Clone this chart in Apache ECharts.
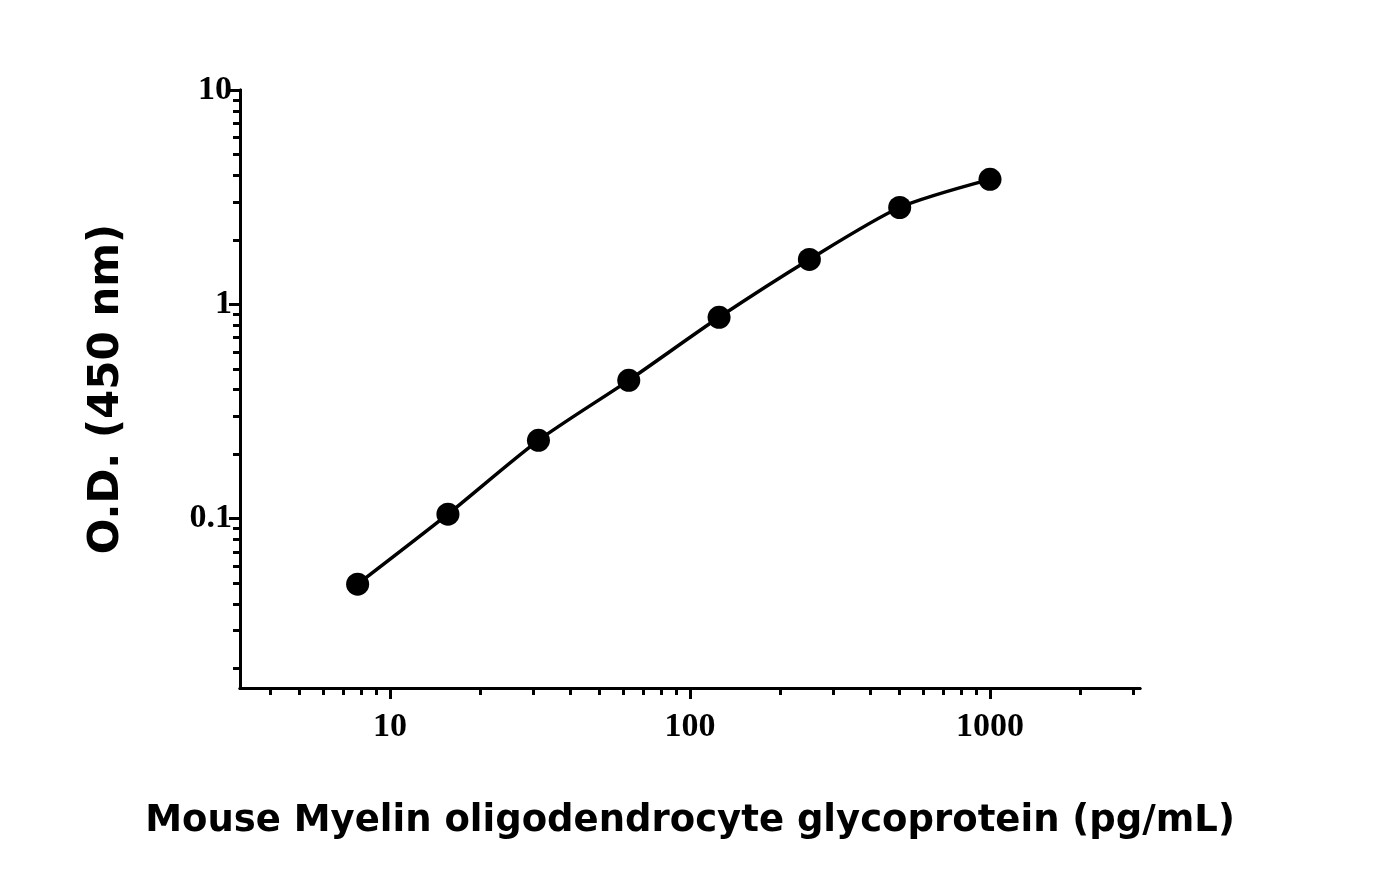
<!DOCTYPE html>
<html><head><meta charset="utf-8">
<script src="https://cdn.jsdelivr.net/npm/echarts@6/dist/echarts.min.js"></script>
<style>html,body{margin:0;background:#fff}#c{width:1383px;height:873px}</style>
</head><body><div id="c"></div>
<script>
var conc = [7.8, 15.6, 31.25, 62.5, 125, 250, 500, 1000];
var od = [0.0495, 0.105, 0.232, 0.442, 0.87, 1.62, 2.83, 3.83];
var xMajor = [10, 100, 1000];
var xMinor = [4, 5, 6, 7, 8, 9, 20, 30, 40, 50, 60, 70, 80, 90, 200, 300, 400, 500, 600, 700, 800, 900, 2000, 3000];
var yMajor = [0.1, 1, 10];
var yMinor = [0.02, 0.03, 0.04, 0.05, 0.06, 0.07, 0.08, 0.09, 0.2, 0.3, 0.4, 0.5, 0.6, 0.7, 0.8, 0.9, 2, 3, 4, 5, 6, 7, 8, 9];

var lg = function (v) { return Math.log10(v); };
var pts = conc.map(function (c, i) { return [lg(c), lg(od[i])]; });
var fmt = function (v) { var n = Math.pow(10, v); return n < 1 ? n.toFixed(1) : String(Math.round(n)); };
var font = 'DejaVu Sans';

var myChart = echarts.init(document.getElementById('c'));
var line = { onZero: false, lineStyle: { color: '#000', width: 3 } };
var xBase = { type: 'value', min: 0.5, max: 3.5, splitLine: { show: false }, axisLine: line };
var yBase = { type: 'value', min: -1.79, max: 1, splitLine: { show: false }, axisLine: line };
var option = {
    textStyle: { fontFamily: font },
    grid: { left: 240, right: 243, top: 90, bottom: 185 },
    xAxis: [
        Object.assign({}, xBase, {
            name: 'Mouse Myelin oligodendrocyte glycoprotein (pg/mL)',
            nameLocation: 'middle', nameGap: 115,
            nameTextStyle: { fontSize: 37, fontWeight: 'bold', color: '#000', fontFamily: font },
            axisTick: { customValues: xMajor.map(lg), length: 11, lineStyle: { width: 3, color: '#000' } },
            axisLabel: { customValues: xMajor.map(lg), formatter: fmt, fontSize: 34, fontWeight: 'bold', color: '#000', margin: 22, fontFamily: 'Liberation Sans Narrow' }
        }),
        Object.assign({}, xBase, {
            position: 'bottom',
            axisTick: { customValues: xMinor.map(lg), length: 7, lineStyle: { width: 3, color: '#000' } },
            axisLabel: { show: false }
        })
    ],
    yAxis: [
        Object.assign({}, yBase, {
            name: 'O.D. (450 nm)',
            nameLocation: 'middle', nameGap: 112,
            nameTextStyle: { fontSize: 42, fontWeight: 'bold', color: '#000', fontFamily: font },
            axisTick: { customValues: yMajor.map(lg), length: 11, lineStyle: { width: 3, color: '#000' } },
            axisLabel: { customValues: yMajor.map(lg), formatter: fmt, fontSize: 34, fontWeight: 'bold', color: '#000', margin: 8, fontFamily: 'Liberation Sans Narrow' }
        }),
        Object.assign({}, yBase, {
            position: 'left',
            axisTick: { customValues: yMinor.map(lg), length: 7, lineStyle: { width: 3, color: '#000' } },
            axisLabel: { show: false }
        })
    ],
    series: [{
        type: 'line',
        data: pts,
        smooth: 0.25,
        symbol: 'circle',
        symbolSize: 23,
        itemStyle: { color: '#000' },
        lineStyle: { color: '#000', width: 3.5 }
    }]
};
myChart.setOption(option);
</script></body></html>
